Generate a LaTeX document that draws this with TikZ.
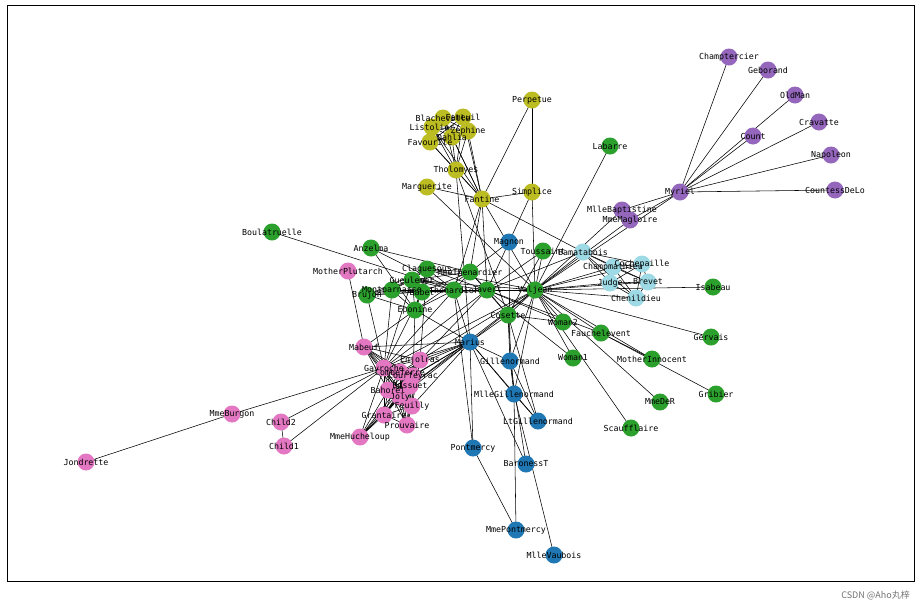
\documentclass[tikz,border=0pt]{standalone}
\usepackage{fontspec}
\setmonofont{DejaVu Sans Mono}
\newfontfamily\cjk{Noto Sans CJK SC}
\pgfdeclarelayer{background}
\pgfdeclarelayer{paper}
\pgfsetlayers{paper,background,main}
\definecolor{cpur}{HTML}{9467BD}
\definecolor{colv}{HTML}{BCBD22}
\definecolor{cgrn}{HTML}{2CA02C}
\definecolor{ccya}{HTML}{9EDAE5}
\definecolor{cblu}{HTML}{1F77B4}
\definecolor{cpnk}{HTML}{E377C2}
\tikzset{dot/.style={circle,inner sep=0pt,minimum size=17pt},
lab/.style={font=\ttfamily\fontsize{8.3}{9}\selectfont,inner sep=0pt},
edge/.style={draw=black,line width=0.55pt}}
\begin{document}
\begin{tikzpicture}[x=1pt,y=-1pt]
\useasboundingbox (0,0) rectangle (924,611);
\begin{pgfonlayer}{paper}
\fill[white] (0,0) rectangle (924,611);
\end{pgfonlayer}
\draw[line width=0.6pt] (7,5) rectangle (914,581);
\foreach \n/\x/\y/\c in {Champtercier/729/57/cpur,Geborand/768/70/cpur,OldMan/795/95/cpur,Cravatte/819/122/cpur,Count/753/136/cpur,Napoleon/831/155/cpur,CountessDeLo/835/190/cpur,Myriel/680/192/cpur,MlleBaptistine/622/210/cpur,MmeMagloire/630/220/cpur,
Perpetue/532/100/colv,Blacheville/443/118/colv,Fameuil/463/117/colv,Listolier/432/127/colv,Dahlia/452/137/colv,Zephine/468/131/colv,Favourite/430/142/colv,Tholomyes/456/170/colv,Marguerite/427/187/colv,Fantine/482/199/colv,Simplice/532/192/colv,
Labarre/610/146/cgrn,Boulatruelle/272/232/cgrn,Anzelma/371/248/cgrn,Toussaint/543/251/cgrn,Claquesous/427/269/cgrn,MmeThenardier/470/272/cgrn,Gueulemer/412/280/cgrn,Montparnasse/392/290/cgrn,Thenardier/454/290/cgrn,Javert/487/290/cgrn,Valjean/535/290/cgrn,Babet/422/292/cgrn,Brujon/367/295/cgrn,Eponine/415/310/cgrn,Cosette/508/315/cgrn,Woman2/563/322/cgrn,Fauchelevent/601/333/cgrn,MotherInnocent/652/359/cgrn,Woman1/573/358/cgrn,Gervais/711/337/cgrn,Isabeau/713/287/cgrn,Gribier/716/394/cgrn,MmeDeR/660/402/cgrn,Scaufflaire/631/428/cgrn,
Bamatabois/583/252/ccya,Champmathieu/613/267/ccya,Cochepaille/642/264/ccya,Judge/610/283/ccya,Brevet/648/282/ccya,Chenildieu/636/298/ccya,
Magnon/509/242/cblu,Marius/470/342/cblu,Gillenormand/510/361/cblu,MlleGillenormand/514/394/cblu,LtGillenormand/538/421/cblu,Pontmercy/473/448/cblu,BaronessT/526/464/cblu,MmePontmercy/516/530/cblu,MlleVaubois/554/555/cblu,
MotherPlutarch/348/271/cpnk,Mabeuf/364/347/cpnk,Gavroche/384/368/cpnk,Enjolras/420/360/cpnk,Courfeyrac/413/376/cpnk,Combeferre/400/372/cpnk,Bossuet/410/386/cpnk,Bahorel/388/390/cpnk,Joly/400/397/cpnk,Feuilly/412/406/cpnk,Grantaire/384/415/cpnk,Prouvaire/407/425/cpnk,MmeHucheloup/360/437/cpnk,MmeBurgon/232/414/cpnk,Child2/281/422/cpnk,Child1/284/446/cpnk,Jondrette/86/462/cpnk}
{\node[dot,fill=\c] (\n) at (\x,\y) {};}
\begin{pgfonlayer}{background}
\foreach \a/\b in {Myriel/Napoleon,Myriel/MlleBaptistine,Myriel/MmeMagloire,Myriel/CountessDeLo,Myriel/Geborand,Myriel/Champtercier,Myriel/Cravatte,Myriel/Count,Myriel/OldMan,Myriel/Valjean,MlleBaptistine/MmeMagloire,MlleBaptistine/Valjean,MmeMagloire/Valjean,Labarre/Valjean,Marguerite/Valjean,MmeDeR/Valjean,Isabeau/Valjean,Gervais/Valjean,
Listolier/Tholomyes,Fameuil/Tholomyes,Fameuil/Listolier,Blacheville/Tholomyes,Blacheville/Listolier,Blacheville/Fameuil,Favourite/Tholomyes,Favourite/Listolier,Favourite/Fameuil,Favourite/Blacheville,Dahlia/Tholomyes,Dahlia/Listolier,Dahlia/Fameuil,Dahlia/Blacheville,Dahlia/Favourite,Zephine/Tholomyes,Zephine/Listolier,Zephine/Fameuil,Zephine/Blacheville,Zephine/Favourite,Zephine/Dahlia,Fantine/Tholomyes,Fantine/Listolier,Fantine/Fameuil,Fantine/Blacheville,Fantine/Favourite,Fantine/Dahlia,Fantine/Zephine,Fantine/Marguerite,Fantine/Valjean,
MmeThenardier/Fantine,Thenardier/Fantine,Thenardier/MmeThenardier,Cosette/MmeThenardier,Cosette/Valjean,Cosette/Tholomyes,Javert/Valjean,Javert/Fantine,Javert/Thenardier,Javert/MmeThenardier,Javert/Cosette,Fauchelevent/Valjean,Fauchelevent/Javert,Bamatabois/Fantine,Bamatabois/Javert,Bamatabois/Valjean,Perpetue/Fantine,Simplice/Perpetue,Simplice/Valjean,Simplice/Fantine,Simplice/Javert,Scaufflaire/Valjean,Woman1/Valjean,Woman1/Javert,Judge/Valjean,Judge/Bamatabois,Champmathieu/Valjean,Champmathieu/Judge,Champmathieu/Bamatabois,Brevet/Judge,Brevet/Champmathieu,Brevet/Valjean,Brevet/Bamatabois,Chenildieu/Judge,Chenildieu/Champmathieu,Chenildieu/Brevet,Chenildieu/Valjean,Chenildieu/Bamatabois,Cochepaille/Judge,Cochepaille/Champmathieu,Cochepaille/Brevet,Cochepaille/Chenildieu,Cochepaille/Valjean,Cochepaille/Bamatabois,
Pontmercy/Thenardier,Boulatruelle/Thenardier,Eponine/MmeThenardier,Eponine/Thenardier,Anzelma/Eponine,Anzelma/Thenardier,Anzelma/MmeThenardier,Woman2/Valjean,Woman2/Cosette,Woman2/Javert,MotherInnocent/Fauchelevent,MotherInnocent/Valjean,Gribier/Fauchelevent,MmeBurgon/Jondrette,Gavroche/MmeBurgon,Gavroche/Thenardier,Gavroche/Javert,Gavroche/Valjean,Gillenormand/Cosette,Gillenormand/Valjean,Magnon/Gillenormand,Magnon/MmeThenardier,MlleGillenormand/Gillenormand,MlleGillenormand/Cosette,MlleGillenormand/Valjean,MmePontmercy/MlleGillenormand,MmePontmercy/Pontmercy,MlleVaubois/MlleGillenormand,LtGillenormand/MlleGillenormand,LtGillenormand/Gillenormand,LtGillenormand/Cosette,
Marius/Gillenormand,Marius/MlleGillenormand,Marius/Pontmercy,Marius/LtGillenormand,Marius/Cosette,Marius/Valjean,Marius/Tholomyes,Marius/Thenardier,Marius/Eponine,Marius/Gavroche,BaronessT/Gillenormand,BaronessT/Marius,Mabeuf/Marius,Mabeuf/Eponine,Mabeuf/Gavroche,Enjolras/Marius,Enjolras/Gavroche,Enjolras/Javert,Enjolras/Mabeuf,Enjolras/Valjean,Combeferre/Enjolras,Combeferre/Marius,Combeferre/Gavroche,Combeferre/Mabeuf,Prouvaire/Gavroche,Prouvaire/Enjolras,Prouvaire/Combeferre,Feuilly/Gavroche,Feuilly/Enjolras,Feuilly/Prouvaire,Feuilly/Combeferre,Feuilly/Mabeuf,Feuilly/Marius,
Courfeyrac/Marius,Courfeyrac/Enjolras,Courfeyrac/Combeferre,Courfeyrac/Gavroche,Courfeyrac/Mabeuf,Courfeyrac/Eponine,Courfeyrac/Feuilly,Courfeyrac/Prouvaire,Bahorel/Combeferre,Bahorel/Gavroche,Bahorel/Courfeyrac,Bahorel/Mabeuf,Bahorel/Enjolras,Bahorel/Feuilly,Bahorel/Prouvaire,Bahorel/Marius,Bossuet/Marius,Bossuet/Courfeyrac,Bossuet/Gavroche,Bossuet/Bahorel,Bossuet/Enjolras,Bossuet/Feuilly,Bossuet/Prouvaire,Bossuet/Combeferre,Bossuet/Mabeuf,Bossuet/Valjean,Joly/Bahorel,Joly/Bossuet,Joly/Gavroche,Joly/Courfeyrac,Joly/Enjolras,Joly/Feuilly,Joly/Prouvaire,Joly/Combeferre,Joly/Mabeuf,Joly/Marius,Grantaire/Bossuet,Grantaire/Enjolras,Grantaire/Combeferre,Grantaire/Courfeyrac,Grantaire/Joly,Grantaire/Gavroche,Grantaire/Bahorel,Grantaire/Feuilly,Grantaire/Prouvaire,MotherPlutarch/Mabeuf,
Gueulemer/Thenardier,Gueulemer/Valjean,Gueulemer/MmeThenardier,Gueulemer/Javert,Gueulemer/Gavroche,Gueulemer/Eponine,Babet/Thenardier,Babet/Gueulemer,Babet/Valjean,Babet/MmeThenardier,Babet/Javert,Babet/Gavroche,Babet/Eponine,Claquesous/Thenardier,Claquesous/Babet,Claquesous/Gueulemer,Claquesous/Valjean,Claquesous/MmeThenardier,Claquesous/Javert,Claquesous/Eponine,Claquesous/Enjolras,Montparnasse/Javert,Montparnasse/Babet,Montparnasse/Gueulemer,Montparnasse/Claquesous,Montparnasse/Valjean,Montparnasse/Gavroche,Montparnasse/Eponine,Montparnasse/Thenardier,Toussaint/Cosette,Toussaint/Javert,Toussaint/Valjean,Child1/Gavroche,Child2/Gavroche,Child2/Child1,Brujon/Babet,Brujon/Gueulemer,Brujon/Thenardier,Brujon/Gavroche,Brujon/Eponine,Brujon/Claquesous,Brujon/Montparnasse,MmeHucheloup/Bossuet,MmeHucheloup/Joly,MmeHucheloup/Grantaire,MmeHucheloup/Bahorel,MmeHucheloup/Courfeyrac,MmeHucheloup/Gavroche,MmeHucheloup/Enjolras}
{\draw[edge] (\a.center) -- (\b.center);}
\end{pgfonlayer}
\foreach \n in {Champtercier,Geborand,OldMan,Cravatte,Count,Napoleon,CountessDeLo,Myriel,MlleBaptistine,MmeMagloire,Perpetue,Blacheville,Fameuil,Listolier,Dahlia,Zephine,Favourite,Tholomyes,Marguerite,Fantine,Simplice,Labarre,Boulatruelle,Anzelma,Toussaint,Claquesous,MmeThenardier,Gueulemer,Montparnasse,Thenardier,Javert,Valjean,Babet,Brujon,Eponine,Cosette,Woman2,Fauchelevent,MotherInnocent,Woman1,Gervais,Isabeau,Gribier,MmeDeR,Scaufflaire,Bamatabois,Champmathieu,Cochepaille,Judge,Brevet,Chenildieu,Magnon,Marius,Gillenormand,MlleGillenormand,LtGillenormand,Pontmercy,BaronessT,MmePontmercy,MlleVaubois,MotherPlutarch,Mabeuf,Gavroche,Enjolras,Courfeyrac,Combeferre,Bossuet,Bahorel,Joly,Feuilly,Grantaire,Prouvaire,MmeHucheloup,MmeBurgon,Child2,Child1,Jondrette}
{\node[lab] (L\n) at (\n) {\n};}
\node[font=\cjk\fontsize{9}{10}\selectfont,text=black!55,anchor=south east,inner sep=0pt] (wm) at (910,600) {CSDN @Aho丸梓};
\end{tikzpicture}
\end{document}
